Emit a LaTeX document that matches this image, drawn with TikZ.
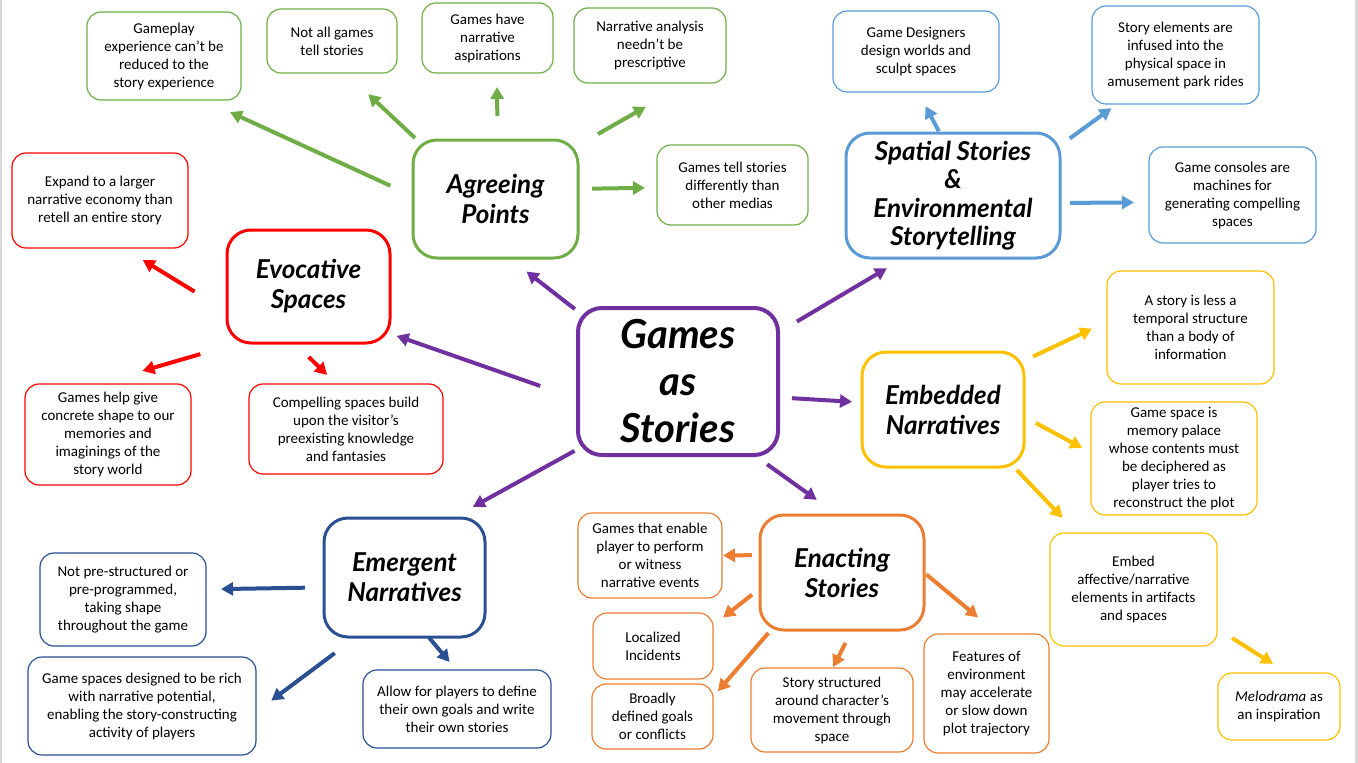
\documentclass[tikz,border=0pt]{standalone}
\usepackage{fontspec}
\setmainfont{Carlito}
\newfontfamily\handfont{Lato}
\usetikzlibrary{arrows.meta}

\definecolor{purp}{HTML}{7030A0}
\definecolor{grn}{HTML}{70AD47}
\definecolor{sky}{HTML}{5B9BD5}
\definecolor{rd}{HTML}{FF0000}
\definecolor{amber}{HTML}{FFC000}
\definecolor{orng}{HTML}{ED7D31}
\definecolor{navy}{HTML}{2A4F93}

\begin{document}
\begin{tikzpicture}
        [
            x=1pt, y=-1pt,
            hub/.style={draw=#1, line width=3pt, rounded corners=24pt,
                        align=center, inner sep=0pt, outer sep=0pt,
                        font=\handfont\bfseries\itshape\fontsize{26}{30}\selectfont},
            leaf/.style={draw=#1, line width=1.2pt, rounded corners=14pt,
                         align=center, inner sep=0pt, outer sep=0pt,
                         font=\fontsize{15}{18}\selectfont},
            sz/.style 2 args={minimum width=#1pt, minimum height=#2pt},
            arr/.style={draw=#1, line width=4pt, -{Triangle[length=12pt,width=13pt]}}
        ]
        \useasboundingbox (0,0) rectangle (1358,763);
        \draw [black!15, line width=2pt] (1,0) -- (1,763);
        \draw [black!15, line width=3pt] (1356,0) -- (1356,763);

        % the hubs
        \node (gas) [hub=purp, line width=4pt, sz={200}{147},
                     font=\handfont\bfseries\itshape\fontsize{40}{47}\selectfont]
              at (678,381.5) {Games\\as\\Stories};
        \node (agr) [hub=grn, sz={165}{118}] at (495.5,199) {Agreeing\\Points};
        \node (evo) [hub=rd, sz={163}{113}] at (308.5,286.5) {Evocative\\Spaces};
        \node (spa) [hub=sky, sz={214}{125},
                     font=\handfont\bfseries\itshape\fontsize{26}{28.5}\selectfont]
              at (953,195.5) {Spatial Stories\\\&\\Environmental\\Storytelling};
        \node (emb) [hub=amber, sz={162}{115}] at (943,409.5) {Embedded\\Narratives};
        \node (ena) [hub=orng, sz={164}{115}] at (842,572.5) {Enacting\\Stories};
        \node (emr) [hub=navy, sz={161}{119}] at (404.5,577.5) {Emergent\\Narratives};

        % agreeing points
        \node (g1) [leaf=grn, sz={154}{88}] at (164,56) {Gameplay\\experience can’t be\\reduced to the\\story experience};
        \node (g2) [leaf=grn, sz={130}{64}] at (332,41) {Not all games\\tell stories};
        \node (g3) [leaf=grn, sz={131}{70}] at (487.5,38) {Games have\\narrative\\aspirations};
        \node (g4) [leaf=grn, sz={152}{75}] at (650,45.5) {Narrative analysis\\needn’t be\\prescriptive};
        \node (g5) [leaf=grn, sz={151}{80}] at (732.5,185) {Games tell stories\\differently than\\other medias};

        % spatial stories
        \node (b1) [leaf=sky, sz={166}{81}] at (916,51.5) {Game Designers\\design worlds and\\sculpt spaces};
        \node (b2) [leaf=sky, sz={167}{98}] at (1175.5,55) {Story elements are\\infused into the\\physical space in\\amusement park rides};
        \node (b3) [leaf=sky, sz={167}{96}] at (1232.5,195) {Game consoles are\\machines for\\generating compelling\\spaces};

        % evocative spaces
        \node (r1) [leaf=rd, sz={176}{95}] at (100,200.5) {Expand to a larger\\narrative economy than\\retell an entire story};
        \node (r2) [leaf=rd, sz={166}{101}] at (108,434.5) {Games help give\\concrete shape to our\\memories and\\imaginings of the\\story world};
        \node (r3) [leaf=rd, sz={194}{90}] at (346,429) {Compelling spaces build\\upon the visitor’s\\preexisting knowledge\\and fantasies};

        % embedded narratives
        \node (y1) [leaf=amber, sz={167}{113}] at (1190.5,327.5) {A story is less a\\temporal structure\\than a body of\\information};
        \node (y2) [leaf=amber, sz={166}{113}] at (1174,458.5) {Game space is\\memory palace\\whose contents must\\be deciphered as\\player tries to\\reconstruct the plot};
        \node (y3) [leaf=amber, sz={167}{113}] at (1133.5,589.5) {Embed\\affective/narrative\\elements in artifacts\\and spaces};
        \node (y4) [leaf=amber, sz={122}{67}] at (1279,706.5) {\textit{Melodrama} as\\an inspiration};

        % enacting stories
        \node (o1) [leaf=orng, sz={144}{85}] at (650,555.5) {Games that enable\\player to perform\\or witness\\narrative events};
        \node (o2) [leaf=orng, sz={120}{66}] at (653,646) {Localized\\Incidents};
        \node (o3) [leaf=orng, sz={121}{65}] at (652.5,716.5) {Broadly\\defined goals\\or conflicts};
        \node (o4) [leaf=orng, sz={162}{84}] at (832,710) {Story structured\\around character’s\\movement through\\space};
        \node (o5) [leaf=orng, sz={125}{119}] at (986.5,693.5) {Features of\\environment\\may accelerate\\or slow down\\plot trajectory};

        % emergent narratives
        \node (n1) [leaf=navy, sz={166}{93}] at (123,599.5) {Not pre-structured or\\pre-programmed,\\taking shape\\throughout the game};
        \node (n2) [leaf=navy, sz={228}{98}] at (142,706) {Game spaces designed to be rich\\with narrative potential,\\enabling the story-constructing\\activity of players};
        \node (n3) [leaf=navy, sz={188}{78}] at (457,709) {Allow for players to define\\their own goals and write\\their own stories};

        % arrows: from/angle/to/angle/gap at tail/gap at tip
        \foreach \a/\p/\b/\q/\s/\t in {gas/145/agr/-77/4/22, gas/190/evo/-30/40/7,
                gas/26/spa/232/22/20, gas/-9/emb/175/14/10,
                gas/-44/ena/94/16/26, gas/214/emr/51.5/4/23}
            \draw [arr=purp, shorten <=\s pt, shorten >=\t pt] (\a.\p) -- (\b.\q);
        \foreach \a/\p/\b/\q/\s/\t in {agr/178/g1/-48/25/29, agr/143/g2/-67/3/31,
                agr/88.5/g3/-75/24/14, agr/33/g4/-45.5/23/48, agr/7.6/g5/182.3/14/12}
            \draw [arr=grn, shorten <=\s pt, shorten >=\t pt] (\a.\p) -- (\b.\q);
        \foreach \a/\p/\b/\q/\s/\t in {spa/102.6/b1/-87.6/2/16, spa/25.8/b2/220.9/12/7,
                spa/-4/b3/185.5/10/15}
            \draw [arr=sky, shorten <=\s pt, shorten >=\t pt] (\a.\p) -- (\b.\q);
        \foreach \a/\p/\b/\q/\s/\t in {evo/197/r1/-64/38/23, evo/219/r2/102/40/47,
                evo/256.6/r3/102.5/20/13}
            \draw [arr=rd, shorten <=\s pt, shorten >=\t pt] (\a.\p) -- (\b.\q);
        \foreach \a/\p/\b/\q/\s/\t in {emb/31.4/y1/176.3/10/16.5, emb/-5.8/y2/176/13.5/10,
                emb/-39.4/y3/135.3/4/21, y3/-25/y4/76.2/18/17}
            \draw [arr=amber, shorten <=\s pt, shorten >=\t pt] (\a.\p) -- (\b.\q);
        \foreach \a/\p/\b/\q/\s/\t in {ena/168.6/o1/0/8/1, ena/191.3/o2/19.6/10/12.6,
                ena/219.3/o3/18.3/4/7.4, ena/-80.6/o4/89.3/14.5/1, ena/0/o5/79.8/3/26}
            \draw [arr=orng, shorten <=\s pt, shorten >=\t pt] (\a.\p) -- (\b.\q);
        \foreach \a/\p/\b/\q/\s/\t in {emr/187.3/n1/7.1/19/15, emr/231.5/n2/-3.7/27/19,
                emr/-68.4/n3/91/1/10.5}
            \draw [arr=navy, shorten <=\s pt, shorten >=\t pt] (\a.\p) -- (\b.\q);
    \end{tikzpicture}
\end{document}
